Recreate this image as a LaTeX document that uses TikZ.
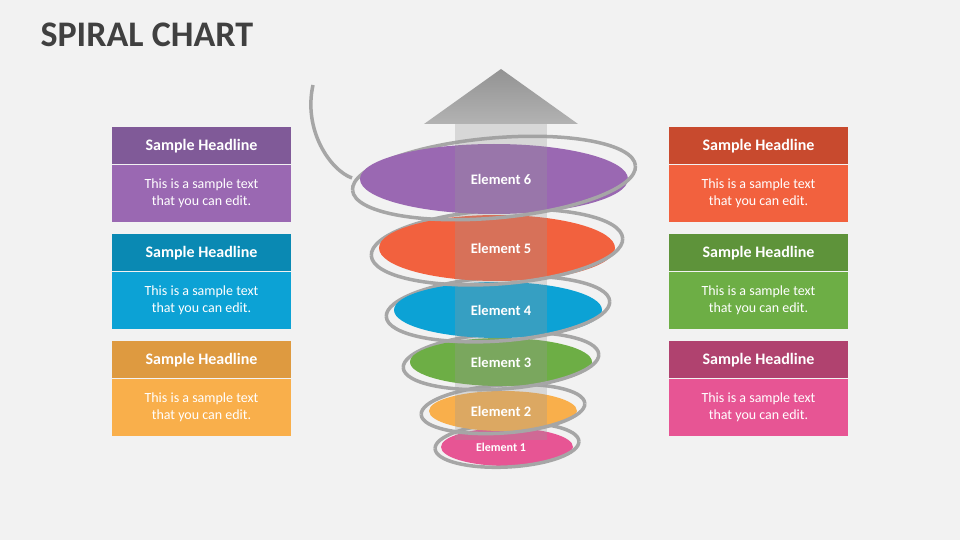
\documentclass[tikz,border=0pt]{standalone}
\usepackage{fontspec}
\setmainfont{Carlito}
\begin{document}
\begin{tikzpicture}[x=1pt,y=-1pt,
 hd/.style={minimum width=179pt,minimum height=37pt,inner sep=0pt,text=white,font=\bfseries\fontsize{16}{18}\selectfont},
 bd/.style={minimum width=179pt,minimum height=57pt,inner sep=0pt,text=white,align=center,font=\fontsize{14}{17}\selectfont},
 el/.style={font=\bfseries\fontsize{14.5}{16}\selectfont,text=white},
 ring/.style={draw=gray!70,line width=3.5pt}]
\fill[gray!10] (0,0) rectangle (960,540);
\useasboundingbox (0,0) rectangle (960,540);
\node[anchor=west,text=black!75,font=\bfseries\fontsize{36}{40}\selectfont] (title) at (37,35) {SPIRAL CHART};
% boxes
\definecolor{ph}{HTML}{805A98}\definecolor{pb}{HTML}{9A68B2}
\definecolor{th}{HTML}{0A89B3}\definecolor{tb}{HTML}{0CA2D5}
\definecolor{oh}{HTML}{DE9A40}\definecolor{ob}{HTML}{F9AF4B}
\definecolor{rh}{HTML}{C84A2E}\definecolor{rb}{HTML}{F2613E}
\definecolor{gh}{HTML}{5E933A}\definecolor{gb}{HTML}{6DAE45}
\definecolor{kh}{HTML}{B0426F}\definecolor{kb}{HTML}{E75594}
\foreach \x/\y/\h/\b/\n in {201.5/127/ph/pb/a,201.5/234/th/tb/b,201.5/341/oh/ob/c,758.5/127/rh/rb/d,758.5/234/gh/gb/e,758.5/341/kh/kb/f}{
 \node[hd,fill=\h,anchor=north] (h\n) at (\x,\y) {Sample Headline};
 \node[bd,fill=\b,anchor=north] (b\n) at (h\n.south) {This is a sample text\\that you can edit.};
}
% arrow head
\shade[top color=gray!85,bottom color=gray!60] (424,124) -- (501,69) -- (578,124) -- cycle;
% ring backs
\foreach \cx/\cy/\rx/\ry/\r in {494/178/142/40/5,497/247/126/37/4,498/309/112/32/4,501/361/98/28/4,503/409/82/24/4,507/445/72/22/3}{
 \draw[ring,rotate around={\r:(\cx,\cy)}] (\cx+\rx,\cy) arc (0:180:\rx pt and \ry pt);
}
\draw[ring] (313,85) .. controls (303,130) and (330,170) .. (352,178);
% ellipses
\foreach \cx/\cy/\rx/\ry/\c/\n in {507/447/66/19/kb/1,503/411/74/20/ob/2,501/362/91/24/gb/3,498/310/104/28/tb/4,497/248/118/33/rb/5,494/179/134/35/pb/6}{
 \fill[\c] (\cx,\cy) ellipse (\rx pt and \ry pt);
}
% shaft
\fill[gray!80,opacity=0.3] (455,124) rectangle (547,440);
\foreach \cy/\n in {411/2,362/3,310/4,248/5,179/6}{
 \node[el] (e\n) at (501,\cy) {Element \n};
}
\node[el,font=\bfseries\fontsize{12}{14}\selectfont] (e1) at (501,447) {Element 1};
% ring fronts
\foreach \cx/\cy/\rx/\ry/\r in {494/178/142/40/5,497/247/126/37/4,498/309/112/32/4,501/361/98/28/4,503/409/82/24/4,507/445/72/22/3}{
 \draw[ring,rotate around={\r:(\cx,\cy)}] (\cx-\rx,\cy) arc (180:360:\rx pt and \ry pt);
}
\end{tikzpicture}
\end{document}
